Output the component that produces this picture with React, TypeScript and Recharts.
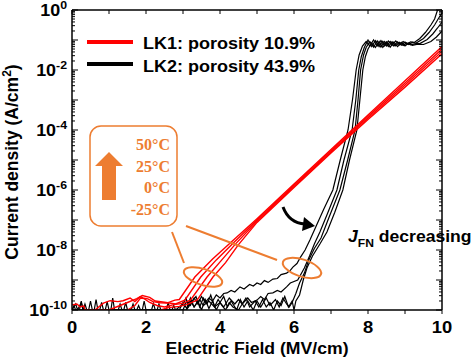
import React from 'react';
import { LineChart, Line, XAxis, YAxis } from 'recharts';

// x = electric field (MV/cm), e = log10 of current density (A/cm2)
type Pt = [number, number];

const FIELD_TICKS = [0, 1, 2, 3, 4, 5, 6, 7, 8, 9, 10];
const FIELD_LABELS = ['0', '', '2', '', '4', '', '6', '', '8', '', '10'];
const DECADES = [-10, -9, -8, -7, -6, -5, -4, -3, -2, -1, 0];
const MINOR_FACTORS = [2, 3, 4, 5, 6, 7, 8, 9];
const TEMPS = ['50°C', '25°C', '0°C', '-25°C'];

const LEGEND = [
  { name: 'LK1: porosity 10.9%', color: '#ff0000' },
  { name: 'LK2: porosity 43.9%', color: '#000000' },
];

// LK1 (red), one curve per temperature
const lk1_50C: Pt[] = [
  [0.62, -10], [0.85, -9.77], [1.03, -9.69], [1.24, -9.72], [1.38, -9.69], [1.57, -9.6], [1.7, -9.72],
  [1.84, -9.56], [1.92, -9.6], [2.05, -9.63], [2.19, -9.72], [2.38, -9.76], [2.56, -9.77], [2.78, -9.67],
  [2.9, -9.65], [3.32, -8.9], [3.8, -8.3], [4.32, -7.72], [5, -6.96], [6, -5.8], [7, -4.65], [8, -3.5],
  [9, -2.36], [10, -1.22],
];
const lk1_25C: Pt[] = [
  [0, -9.83], [0.13, -9.8], [0.22, -9.89], [0.32, -9.87], [0.35, -10], [1.0, -10], [1.3, -9.85],
  [1.5, -9.75], [1.75, -9.62], [1.9, -9.52], [2.1, -9.58], [2.25, -9.7], [2.5, -9.74], [2.8, -9.8],
  [3.05, -9.67], [3.48, -8.9], [3.9, -8.33], [4.38, -7.74], [5, -7.0], [6, -5.84], [7, -4.69], [8, -3.55],
  [9, -2.43], [10, -1.3],
];
const lk1_0C: Pt[] = [
  [1.5, -10], [1.7, -9.85], [1.85, -9.6], [1.95, -9.62], [2.1, -9.75], [2.3, -9.85], [2.5, -9.9],
  [2.75, -9.82], [3.0, -9.78], [3.2, -9.67], [3.65, -8.9], [4.02, -8.37], [4.44, -7.77], [5, -7.04],
  [6, -5.88], [7, -4.73], [8, -3.6], [9, -2.5], [10, -1.38],
];
const lk1_m25C: Pt[] = [
  [2.4, -10], [2.6, -9.92], [2.9, -9.88], [3.1, -9.82], [3.38, -9.67], [3.81, -8.9], [4.15, -8.42],
  [4.5, -7.82], [5, -7.08], [6, -5.92], [7, -4.77], [8, -3.65], [9, -2.57], [10, -1.46],
];

// LK2 (black), one curve per temperature
const lk2_50C: Pt[] = [
  [0, -10], [0.1, -9.8], [0.15, -10], [0.25, -9.75], [0.3, -10], [0.6, -10], [0.65, -9.65], [0.7, -10],
  [1.05, -10], [1.1, -9.6], [1.15, -10], [1.9, -10], [1.95, -9.7], [2.0, -10], [3.0, -10], [3.1, -9.7],
  [3.2, -9.85], [3.3, -9.6], [3.4, -9.8], [3.5, -9.55], [3.6, -9.75], [3.7, -9.6], [3.8, -9.7], [3.9, -9.5],
  [4.0, -9.6], [4.1, -9.45], [4.19, -9.43], [4.3, -9.35], [4.4, -9.4], [4.54, -9.23], [4.65, -9.3],
  [4.8, -9.15], [4.9, -9.2], [5.0, -9.1], [5.1, -9.15], [5.2, -9.02], [5.3, -9.08], [5.43, -8.97],
  [5.55, -8.95], [5.65, -8.82], [5.8, -8.77], [5.9, -8.68], [5.97, -8.57], [6.08, -8.45], [6.16, -8.27],
  [6.3, -8.0], [6.43, -7.67], [6.6, -7.2], [6.8, -6.65], [7.05, -6.0], [7.25, -5.0], [7.46, -4.0],
  [7.58, -3.0], [7.68, -2.0], [7.76, -1.5], [7.85, -1.2], [7.95, -1.05], [8.05, -1.2], [8.15, -1.0],
  [8.25, -1.2], [8.35, -1.02], [8.45, -1.2], [8.55, -1.03], [8.65, -1.18], [8.75, -1.03], [8.85, -1.16],
  [8.95, -1.05], [9.05, -1.14], [9.15, -1.06], [9.25, -1.08], [9.4, -0.95], [9.55, -0.75], [9.7, -0.5],
  [9.8, -0.3], [9.88, 0],
];
const lk2_25C: Pt[] = [
  [0, -10], [0.45, -10], [0.5, -9.7], [0.55, -10], [1.4, -10], [1.45, -9.75], [1.5, -10], [2.3, -10],
  [2.35, -9.8], [2.4, -10], [3.1, -10], [3.2, -9.7], [3.3, -9.9], [3.45, -9.65], [3.55, -9.85], [3.7, -9.7],
  [3.85, -9.9], [4.0, -9.75], [4.1, -9.9], [4.25, -9.6], [4.4, -9.8], [4.5, -9.65], [4.6, -9.8],
  [4.75, -9.6], [4.85, -9.75], [5.0, -9.67], [5.1, -9.55], [5.2, -9.65], [5.3, -9.45], [5.43, -9.43],
  [5.55, -9.35], [5.65, -9.4], [5.8, -9.23], [5.9, -9.1], [6.1, -9.0], [6.28, -8.6], [6.42, -8.2],
  [6.55, -7.8], [6.7, -7.4], [6.9, -6.8], [7.16, -6.0], [7.35, -5.0], [7.57, -4.0], [7.67, -3.0],
  [7.75, -2.0], [7.82, -1.55], [7.9, -1.25], [8.0, -1.0], [8.1, -1.22], [8.2, -1.02], [8.3, -1.22],
  [8.4, -1.04], [8.5, -1.2], [8.6, -1.05], [8.7, -1.2], [8.8, -1.06], [8.9, -1.17], [9.0, -1.07],
  [9.1, -1.15], [9.2, -1.08], [9.3, -1.1], [9.5, -0.95], [9.65, -0.75], [9.8, -0.5], [9.92, -0.25],
  [10, -0.1],
];
const lk2_0C: Pt[] = [
  [0, -10], [0.2, -10], [0.25, -9.7], [0.3, -10], [0.9, -10], [0.95, -9.72], [1.0, -10], [1.6, -10],
  [1.65, -9.8], [1.7, -10], [2.55, -10], [2.6, -9.75], [2.65, -10], [2.9, -10], [3.0, -9.75], [3.1, -9.95],
  [3.2, -9.6], [3.3, -9.9], [3.4, -9.7], [3.5, -10], [3.6, -9.65], [3.7, -9.95], [3.8, -9.7], [3.9, -10],
  [4.0, -9.75], [4.1, -9.55], [4.2, -9.9], [4.3, -9.7], [4.45, -10], [4.55, -9.65], [4.65, -9.9],
  [4.75, -9.7], [4.9, -10], [5.0, -9.7], [5.1, -9.9], [5.25, -9.6], [5.35, -9.85], [5.5, -9.65],
  [5.6, -9.9], [5.7, -9.6], [5.8, -9.8], [5.87, -9.9], [5.95, -9.75], [6.05, -9.45], [6.15, -9.1],
  [6.28, -8.77], [6.4, -8.33], [6.55, -7.95], [6.73, -7.6], [6.95, -6.9], [7.24, -6.0], [7.45, -5.0],
  [7.65, -4.0], [7.73, -3.0], [7.8, -2.0], [7.88, -1.5], [7.95, -1.25], [8.05, -1.05], [8.15, -1.24],
  [8.25, -1.03], [8.35, -1.24], [8.45, -1.05], [8.55, -1.22], [8.65, -1.06], [8.75, -1.2], [8.85, -1.08],
  [8.95, -1.18], [9.05, -1.1], [9.15, -1.16], [9.3, -1.12], [9.4, -1.12], [9.6, -0.98], [9.75, -0.8],
  [9.88, -0.6], [10, -0.4],
];
const lk2_m25C: Pt[] = [
  [0, -10], [0.05, -9.85], [0.1, -10], [0.3, -10], [0.35, -9.8], [0.4, -10], [0.75, -10], [0.8, -9.75],
  [0.85, -10], [1.25, -10], [1.3, -9.8], [1.35, -10], [1.75, -10], [1.8, -9.85], [1.85, -10], [2.15, -10],
  [2.2, -9.78], [2.25, -10], [2.7, -10], [2.75, -9.85], [2.8, -10], [3.0, -9.8], [3.08, -9.6], [3.15, -9.9],
  [3.25, -9.7], [3.35, -9.55], [3.45, -9.9], [3.55, -9.6], [3.65, -9.8], [3.75, -9.5], [3.85, -9.9],
  [3.95, -9.65], [4.05, -9.85], [4.15, -10], [4.25, -9.75], [4.35, -9.9], [4.5, -10], [4.6, -9.8],
  [4.7, -9.6], [4.8, -9.9], [4.95, -9.7], [5.05, -9.9], [5.15, -9.65], [5.25, -9.9], [5.35, -9.75],
  [5.45, -10], [5.55, -9.7], [5.65, -9.85], [5.75, -9.55], [5.85, -9.9], [5.95, -9.7], [6.0, -10],
  [6.05, -9.7], [6.15, -9.5], [6.25, -9.0], [6.35, -8.6], [6.5, -8.2], [6.7, -7.8], [6.89, -7.4],
  [7.1, -6.75], [7.32, -6.0], [7.5, -5.0], [7.7, -4.0], [7.78, -3.0], [7.86, -2.0], [7.93, -1.55],
  [8.0, -1.3], [8.1, -1.1], [8.2, -1.25], [8.3, -1.05], [8.4, -1.25], [8.5, -1.06], [8.6, -1.24],
  [8.7, -1.07], [8.8, -1.22], [8.9, -1.08], [9.0, -1.2], [9.1, -1.1], [9.2, -1.18], [9.35, -1.14],
  [9.5, -1.15], [9.7, -1.05], [9.85, -0.9], [10, -0.7],
];

const LK1_CURVES = [lk1_50C, lk1_25C, lk1_0C, lk1_m25C];
const LK2_CURVES = [lk2_50C, lk2_25C, lk2_0C, lk2_m25C];

const toRows = (pts: Pt[]) => pts.map(([x, e]) => ({ x, j: Math.pow(10, e) }));

const Y_TICKS: number[] = [];
DECADES.forEach((d) => {
  Y_TICKS.push(Math.pow(10, d));
  if (d < 0) MINOR_FACTORS.forEach((f) => Y_TICKS.push(f * Math.pow(10, d)));
});

const SANS = "'Liberation Sans', Arial, Helvetica, sans-serif";
const SERIF = "'Liberation Serif', 'Times New Roman', serif";
const ORANGE = '#ed7d31';

const decadeOf = (v: number) => {
  const e = Math.round(Math.log10(v));
  return { e, major: Math.abs(v / Math.pow(10, e) - 1) < 1e-6 };
};

const LeftTick = (props: any) => {
  const { x, y, payload } = props;
  const { e, major } = decadeOf(payload.value);
  return (
    <g>
      <line x1={x} x2={x + (major ? 6 : 3)} y1={y} y2={y} stroke="#000" strokeWidth={1} />
      {major && e % 2 === 0 && (
        <g transform={`translate(${x - 5},${y + 6}) scale(1.12,1)`}>
          <text textAnchor="end" fontFamily={SANS} fontWeight="bold" fontSize={16} fill="#000">
            10<tspan dy={-7} fontSize={11}>{e}</tspan>
          </text>
        </g>
      )}
    </g>
  );
};

const RightTick = (props: any) => {
  const { x, y, payload } = props;
  const { major } = decadeOf(payload.value);
  return <line x1={x} x2={x - (major ? 6 : 3)} y1={y} y2={y} stroke="#000" strokeWidth={1} />;
};

const BottomTick = (props: any) => {
  const { x, y, index } = props;
  const label = FIELD_LABELS[index] ?? '';
  return (
    <g>
      <line x1={x} x2={x} y1={y} y2={y + 4} stroke="#000" strokeWidth={1} />
      {label && (
        <g transform={`translate(${x},${y + 23}) scale(1.15,1)`}>
          <text textAnchor="middle" fontFamily={SANS} fontWeight="bold" fontSize={16} fill="#000">
            {label}
          </text>
        </g>
      )}
    </g>
  );
};

const TopTick = (props: any) => {
  const { x, y } = props;
  return <line x1={x} x2={x} y1={y} y2={y + 4} stroke="#000" strokeWidth={1} />;
};

const Annotations = () => (
  <svg
    width={474}
    height={358}
    style={{ position: 'absolute', left: 0, top: 0, pointerEvents: 'none' }}
  >
    {/* legend */}
    {LEGEND.map((s, i) => (
      <g key={s.name}>
        <line x1={87} x2={133} y1={42 + i * 22} y2={42 + i * 22} stroke={s.color} strokeWidth={4} />
        <text
          x={143}
          y={48.5 + i * 23}
          fontFamily={SANS}
          fontWeight="bold"
          fontSize={16}
          textLength={172}
          lengthAdjust="spacingAndGlyphs"
        >
          {s.name}
        </text>
      </g>
    ))}

    {/* axis titles */}
    <text
      x={257}
      y={354}
      textAnchor="middle"
      fontFamily={SANS}
      fontWeight="bold"
      fontSize={16}
      textLength={183}
      lengthAdjust="spacingAndGlyphs"
    >
      Electric Field (MV/cm)
    </text>
    <text
      transform="translate(18,162) rotate(-90)"
      textAnchor="middle"
      fontFamily={SANS}
      fontWeight="bold"
      fontSize={17.5}
    >
      Current density (A/cm<tspan dy={-7} fontSize={12}>2</tspan>
      <tspan dy={7}>)</tspan>
    </text>

    {/* temperature box */}
    <rect x={90} y={126} width={87} height={100} rx={11} fill="none" stroke={ORANGE} strokeWidth={1.5} />
    <polygon
      points="109,152 95,166 102,166 102,200 116,200 116,166 123,166"
      fill={ORANGE}
    />
    {TEMPS.map((t, i) => (
      <text
        key={t}
        x={170}
        y={150 + i * 21.7}
        textAnchor="end"
        fontFamily={SERIF}
        fontWeight="bold"
        fontSize={16}
        fill={ORANGE}
      >
        {t}
      </text>
    ))}
    <line x1={172} y1={232} x2={184} y2={263} stroke={ORANGE} strokeWidth={2} />
    <line x1={186} y1={226} x2={277} y2={260} stroke={ORANGE} strokeWidth={2} />
    <ellipse cx={203} cy={277} rx={20} ry={8} transform="rotate(18 203 277)" fill="none" stroke={ORANGE} strokeWidth={2} />
    <ellipse cx={302} cy={268} rx={20} ry={8.5} transform="rotate(18 302 268)" fill="none" stroke={ORANGE} strokeWidth={2} />

    {/* J_FN decreasing */}
    <path d="M283,207 Q289,223 305,224" fill="none" stroke="#000" strokeWidth={3} />
    <polygon points="315,226 304,217 302,231" fill="#000" />
    <g transform="translate(348,242) scale(1.1,1)">
      <text fontFamily={SANS} fontWeight="bold" fontSize={16} fill="#000">
        <tspan fontStyle="italic">J</tspan>
        <tspan dy={5} fontSize={11}>FN</tspan>
        <tspan dy={-5}> decreasing</tspan>
      </text>
    </g>
  </svg>
);

export default function App() {
  return (
    <div style={{ position: 'absolute', left: 0, top: 0, width: 474, height: 358, background: '#fff' }}>
      <LineChart width={474} height={358} margin={{ top: 0, right: 0, bottom: 0, left: 0 }}>
        <XAxis
          xAxisId="b"
          dataKey="x"
          type="number"
          domain={[0, 10]}
          ticks={FIELD_TICKS}
          interval={0}
          allowDataOverflow
          height={48}
          tickSize={0}
          tickMargin={0}
          tickLine={false}
          axisLine={{ stroke: '#000', strokeWidth: 1.5 }}
          tick={(p: any) => <BottomTick {...p} />}
        />
        <XAxis
          xAxisId="t"
          orientation="top"
          dataKey="x"
          type="number"
          domain={[0, 10]}
          ticks={FIELD_TICKS}
          interval={0}
          allowDataOverflow
          height={10}
          tickSize={0}
          tickMargin={0}
          tickLine={false}
          axisLine={{ stroke: '#000', strokeWidth: 1.5 }}
          tick={(p: any) => <TopTick {...p} />}
        />
        <YAxis
          yAxisId="l"
          type="number"
          scale="log"
          domain={[1e-10, 1]}
          ticks={Y_TICKS}
          interval={0}
          allowDataOverflow
          width={72}
          tickSize={0}
          tickMargin={0}
          tickLine={false}
          axisLine={{ stroke: '#000', strokeWidth: 1.5 }}
          tick={(p: any) => <LeftTick {...p} />}
        />
        <YAxis
          yAxisId="r"
          orientation="right"
          type="number"
          scale="log"
          domain={[1e-10, 1]}
          ticks={Y_TICKS}
          interval={0}
          allowDataOverflow
          width={32}
          tickSize={0}
          tickMargin={0}
          tickLine={false}
          axisLine={{ stroke: '#000', strokeWidth: 1.5 }}
          tick={(p: any) => <RightTick {...p} />}
        />
        {LK2_CURVES.map((c, i) => (
          <Line
            key={`lk2-${i}`}
            xAxisId="b"
            yAxisId="l"
            data={toRows(c)}
            dataKey="j"
            type="linear"
            stroke="#000"
            strokeWidth={1.2}
            dot={false}
            activeDot={false}
            isAnimationActive={false}
          />
        ))}
        {LK1_CURVES.map((c, i) => (
          <Line
            key={`lk1-${i}`}
            xAxisId="b"
            yAxisId="l"
            data={toRows(c)}
            dataKey="j"
            type="linear"
            stroke="#ff0000"
            strokeWidth={1.4}
            dot={false}
            activeDot={false}
            isAnimationActive={false}
          />
        ))}
      </LineChart>
      <Annotations />
    </div>
  );
}
